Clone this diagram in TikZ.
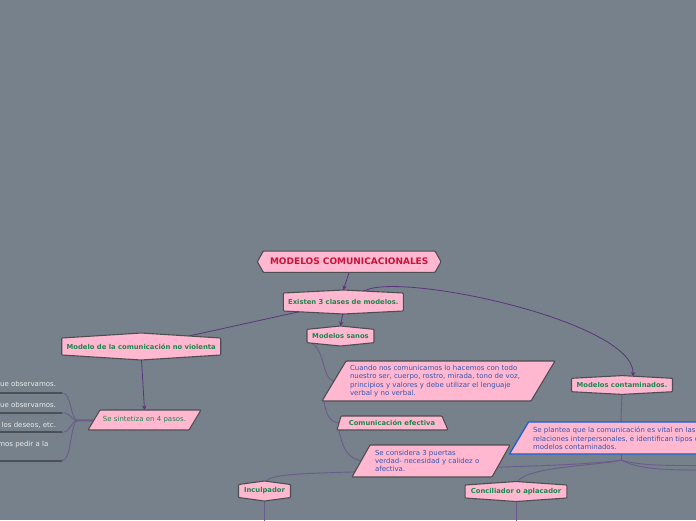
\documentclass[tikz,border=0pt]{standalone}
\usepackage{fontspec}
\setmainfont{DejaVu Sans}
\usetikzlibrary{arrows.meta}
\pgfdeclarelayer{bgl}
\pgfdeclarelayer{lines}
\pgfdeclarelayer{shapes}
\pgfsetlayers{bgl,lines,shapes,main}
\definecolor{bgc}{RGB}{118,129,139}
\definecolor{pinkc}{RGB}{255,184,208}
\definecolor{edgec}{RGB}{78,78,82}
\definecolor{titlec}{RGB}{200,20,60}
\definecolor{greenc}{RGB}{28,135,78}
\definecolor{bluec}{RGB}{55,85,175}
\definecolor{blueedge}{RGB}{30,95,200}
\definecolor{purplec}{RGB}{92,52,125}
\definecolor{treec}{RGB}{108,92,140}
\definecolor{barc}{RGB}{74,80,88}
\definecolor{itemc}{RGB}{236,236,236}
\newcommand\mkvhex[2]{\begin{pgfonlayer}{shapes}\draw[shapestyle] (#1.south west) -- (#1.north west) -- ([yshift=#2]#1.north) -- (#1.north east) -- (#1.south east) -- ([yshift=-#2]#1.south) -- cycle;\end{pgfonlayer}}
\newcommand\mkpgram[3][shapestyle]{\begin{pgfonlayer}{shapes}\draw[#1] ([xshift=#3]#2.north west) -- ([xshift=#3]#2.north east) -- ([xshift=-#3]#2.south east) -- ([xshift=-#3]#2.south west) -- cycle;\end{pgfonlayer}}
\tikzset{
 shapestyle/.style={fill=pinkc, draw=edgec, line width=1.1pt, line join=round, rounded corners=0.8pt},
 blueshape/.style={fill=pinkc, draw=blueedge, line width=1.3pt, line join=round},
 box/.style={inner sep=0pt, outer sep=0pt},
 hdr/.style={box, text=greenc, font=\fontsize{6.8}{8}\selectfont\bfseries},
 body/.style={inner sep=0pt, outer sep=0pt, text=bluec, align=left, font=\fontsize{7}{8.3}\selectfont},
 item/.style={inner sep=0pt, outer sep=0pt, text=itemc, font=\fontsize{7}{8.3}\selectfont},
 arr/.style={draw=purplec, line width=0.8pt, -{Stealth[length=4.5pt,width=4.5pt]}},
 link/.style={draw=purplec, line width=0.8pt},
 tree/.style={draw=treec, line width=0.9pt},
 bar/.style={draw=barc, line width=2pt},
}
\begin{document}
\begin{tikzpicture}[x=1pt,y=-1pt]
\useasboundingbox (0,0) rectangle (696,520);
\begin{pgfonlayer}{bgl}\fill[bgc] (0,0) rectangle (696,520);\end{pgfonlayer}

% ---------- nodes ----------
\node[box, minimum width=171.7pt, minimum height=21.3pt, text=titlec, font=\fontsize{9}{10}\selectfont\bfseries] (title) at (349.2,261.7) {MODELOS COMUNICACIONALES};
\begin{pgfonlayer}{shapes}\draw[shapestyle] (title.north west) -- ([xshift=-6pt]title.west) -- (title.south west) -- (title.south east) -- ([xshift=6pt]title.east) -- (title.north east) -- cycle;\end{pgfonlayer}

\node[hdr, minimum width=120pt, minimum height=18pt] (existen) at (343.3,302) {Existen 3 clases de modelos.};
\mkvhex{existen}{3pt}
\node[hdr, minimum width=67pt, minimum height=13.4pt] (sanos) at (340.5,336) {Modelos sanos};
\mkvhex{sanos}{3.3pt}
\node[hdr, minimum width=159pt, minimum height=17pt] (noviolenta) at (141.2,346.5) {Modelo de la comunicación no violenta};
\mkvhex{noviolenta}{5pt}
\node[hdr, minimum width=101pt, minimum height=13.4pt] (contaminados) at (622,385) {Modelos contaminados.};
\mkvhex{contaminados}{2.7pt}
\node[hdr, minimum width=52pt, minimum height=13pt] (inculpador) at (264.5,491) {Inculpador};
\mkvhex{inculpador}{3.5pt}
\node[hdr, minimum width=101.7pt, minimum height=13pt] (conciliador) at (516,491.5) {Conciliador o aplacador};
\mkvhex{conciliador}{3.5pt}

\node[box, text=greenc, font=\fontsize{7}{8.3}\selectfont, minimum width=101pt, minimum height=20pt] (sintetiza) at (144.5,420) {Se sintetiza en 4 pasos.};
\mkpgram{sintetiza}{6pt}

\node[box, minimum width=209pt, minimum height=40pt] (cuando) at (438.5,381) {};
\mkpgram{cuando}{12pt}
\node[body, anchor=west] (cuandotxt) at (350,381) {Cuando nos comunicamos lo hacemos con todo\\nuestro ser, cuerpo, rostro, mirada, tono de voz,\\principios y valores y debe utilizar el lenguaje\\verbal y no verbal.};

\node[hdr, minimum width=106pt, minimum height=14pt] (efectiva) at (392,423) {Comunicación efectiva};
\begin{pgfonlayer}{shapes}\draw[shapestyle] ([xshift=2pt]efectiva.north west) -- ([xshift=-3pt]efectiva.north east) -- ([xshift=3pt]efectiva.south east) -- ([xshift=-2pt]efectiva.south west) -- cycle;\end{pgfonlayer}

\node[box, minimum width=140pt, minimum height=32pt] (considera) at (431,461) {};
\mkpgram{considera}{9pt}
\node[body, anchor=west] (consideratxt) at (375,461) {Se considera 3 puertas\\verdad- necesidad y calidez o\\afectiva.};

\node[box, minimum width=204pt, minimum height=32pt] (plantea) at (621,438) {};
\mkpgram[blueshape]{plantea}{9.5pt}
\node[body, anchor=west] (planteatxt) at (533,438.3) {Se plantea que la comunicación es vital en las\\relaciones interpersonales, e identifican tipos de\\modelos contaminados.};

% left items
\node[item, anchor=east] (i1) at (56,385) {que observamos.};
\node[item, anchor=east] (i2) at (56,405) {ue observamos.};
\node[item, anchor=east] (i3) at (56,425) {los deseos, etc.};
\node[item, anchor=east] (i4) at (48.3,445) {mos pedir a la};
\coordinate (b1) at (62,392.7);
\coordinate (b2) at (62,412.7);
\coordinate (b3) at (62,432.3);
\coordinate (b4) at (62,460.7);
\coordinate (b0) at (-5,0);
\draw[bar] (b1 -| b0) -- (b1);
\draw[bar] (b2 -| b0) -- (b2);
\draw[bar] (b3 -| b0) -- (b3);
\draw[bar] (b4 -| b0) -- (b4);
\coordinate (lj) at (78,420.5);

% free ends
\coordinate (r1) at (705,465.5);
\coordinate (r2) at (705,470);
\coordinate (dn1) at (264.5,530);
\coordinate (dn2) at (516,530);
\coordinate (pj) at (621,460);

% ---------- connectors ----------
\begin{pgfonlayer}{lines}
\draw[arr] (title.south) -- ([yshift=3pt]existen.north);
\draw[arr] (existen.south) -- ([yshift=3.3pt]sanos.north);
\draw[link] (existen.center) -- (noviolenta.center);
\draw[arr] ([xshift=18pt]existen.north) .. controls (385,268) and (635,320) .. ([xshift=11pt,yshift=2pt]contaminados.north);
\draw[arr] (noviolenta.south) -- (sintetiza.north);

\draw[tree, line width=2pt] (lj) -- (sintetiza.center);
\draw[tree] (lj) .. controls (70,420.5) and (72,392.7) .. (b1);
\draw[tree] (lj) .. controls (70,420.5) and (72,412.7) .. (b2);
\draw[tree] (lj) .. controls (70,420.5) and (72,432.3) .. (b3);
\draw[tree] (lj) .. controls (70,420.5) and (72,460.7) .. (b4);

\draw[tree] ([xshift=-30pt]sanos.south) .. controls (325,348) and (322,380) .. (cuando.west);
\draw[tree] ([xshift=-10pt]cuando.south west) .. controls (326,415) and (330,422) .. (efectiva.west);
\draw[tree] (efectiva.south west) .. controls (343,452) and (350,458) .. (considera.west);

\draw[tree] (contaminados.south) -- (plantea.north);
\draw[tree] (plantea.south) -- (pj);
\draw[tree] (pj) .. controls (590,466) and (450,468) .. (380,471) .. controls (300,474) and (265,473) .. (inculpador.north);
\draw[tree] (pj) .. controls (600,466) and (518,466) .. (conciliador.north);
\draw[tree] (pj) .. controls (640,466) and (670,465.5) .. (r1);
\draw[tree] (pj) .. controls (640,470) and (670,470) .. (r2);
\draw[tree] (inculpador.south) -- (dn1);
\draw[tree] (conciliador.south) -- (dn2);
\end{pgfonlayer}
\end{tikzpicture}
\end{document}
